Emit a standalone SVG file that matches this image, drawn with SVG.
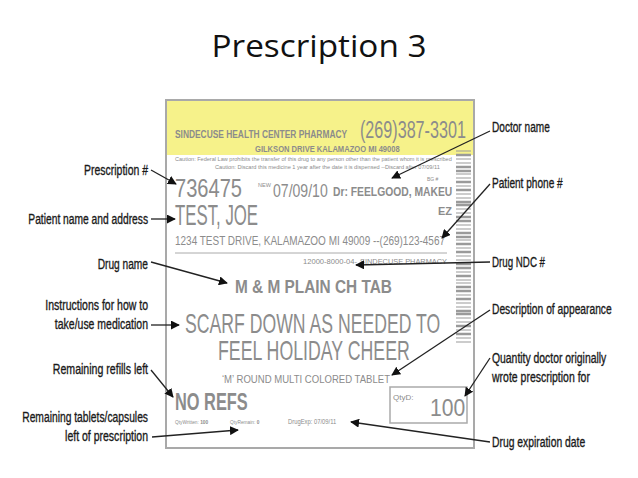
<svg xmlns="http://www.w3.org/2000/svg" width="638" height="478" viewBox="0 0 638 478">
<style>
.ann{font-family:"Liberation Sans",Arial,sans-serif;font-size:15px;fill:#1a1a1a;stroke:#1a1a1a;stroke-width:0.35;}
.lb{font-family:"Liberation Sans",Arial,sans-serif;fill:#8c8c8c;}
.b{font-weight:bold;}
.conn path{fill:none;stroke:#222;stroke-width:1.3;}
</style>
<defs>
<marker id="ah" viewBox="0 0 10 10" refX="9" refY="5" markerWidth="9" markerHeight="9" markerUnits="userSpaceOnUse" orient="auto">
<path d="M0,0 L10,5 L0,10 z" fill="#111"/>
</marker>
</defs>
<rect width="638" height="478" fill="#fff"/>
<text x="319" y="57" text-anchor="middle" font-family="'Open Sans','Liberation Sans',sans-serif" font-size="31" fill="#111" textLength="215" lengthAdjust="spacingAndGlyphs">Prescription 3</text>

<g id="label">
<rect x="166" y="100" width="308" height="348" fill="#fff" stroke="#a9a9a9" stroke-width="2"/>
<rect x="167" y="101" width="306" height="54" fill="#f6f28a"/>
<text class="lb b" transform="translate(175,138) scale(0.72,1)" font-size="11" textLength="239" lengthAdjust="spacingAndGlyphs">SINDECUSE HEALTH CENTER PHARMACY</text>
<text class="lb" transform="translate(360,138) scale(0.67,1)" font-size="24" fill="#8e8d7a" textLength="158" lengthAdjust="spacingAndGlyphs">(269)387-3301</text>
<text class="lb b" transform="translate(255,152) scale(0.72,1)" font-size="9" textLength="201" lengthAdjust="spacingAndGlyphs">GILKSON DRIVE KALAMAZOO MI 49008</text>
<text class="lb" transform="translate(175,161) scale(0.8,1)" font-size="5.5" fill="#a0a0b0" textLength="346" lengthAdjust="spacingAndGlyphs">Caution: Federal Law prohibits the transfer of this drug to any person other than the patient whom it is prescribed</text>
<text class="lb" transform="translate(215,169) scale(0.8,1)" font-size="5.5" fill="#a0a0b0" textLength="281" lengthAdjust="spacingAndGlyphs">Caution: Discard this medicine 1 year after the date it is dispensed --Discard after 07/09/11</text>
<text class="lb" x="427" y="181" font-size="5">BG #</text>
<text class="lb" transform="translate(175,197) scale(0.77,1)" font-size="26" textLength="87" lengthAdjust="spacingAndGlyphs">736475</text>
<text class="lb" x="258" y="187" font-size="5.5">NEW</text>
<text class="lb" transform="translate(273,197) scale(0.74,1)" font-size="19" textLength="74" lengthAdjust="spacingAndGlyphs">07/09/10</text>
<text class="lb b" transform="translate(333,196) scale(0.76,1)" font-size="13" textLength="157" lengthAdjust="spacingAndGlyphs">Dr: FEELGOOD, MAKEU</text>
<text class="lb b" x="438" y="215" font-size="11" textLength="14" lengthAdjust="spacingAndGlyphs">EZ</text>
<text class="lb" transform="translate(175,225) scale(0.62,1)" font-size="30" textLength="134" lengthAdjust="spacingAndGlyphs">TEST, JOE</text>
<text class="lb" transform="translate(175,245) scale(0.72,1)" font-size="12" textLength="375" lengthAdjust="spacingAndGlyphs">1234 TEST DRIVE, KALAMAZOO MI 49009 --(269)123-4567</text>
<line x1="175" y1="253" x2="447" y2="253" stroke="#aaa" stroke-width="1"/>
<text class="lb" transform="translate(303,264) scale(0.75,1)" font-size="7" textLength="72" lengthAdjust="spacingAndGlyphs">12000-8000-04-</text>
<text class="lb" transform="translate(360,264) scale(0.75,1)" font-size="7" textLength="116" lengthAdjust="spacingAndGlyphs">SINDECUSE PHARMACY</text>
<text class="lb b" transform="translate(235,293) scale(0.74,1)" font-size="18" textLength="212" lengthAdjust="spacingAndGlyphs">M &amp; M PLAIN CH TAB</text>
<text class="lb" transform="translate(185,333) scale(0.69,1)" font-size="27" fill="#999" textLength="370" lengthAdjust="spacingAndGlyphs">SCARF DOWN AS NEEDED TO</text>
<text class="lb" transform="translate(218,360) scale(0.7,1)" font-size="27" fill="#999" textLength="274" lengthAdjust="spacingAndGlyphs">FEEL HOLIDAY CHEER</text>
<text class="lb" transform="translate(222,383) scale(0.75,1)" font-size="10" textLength="224" lengthAdjust="spacingAndGlyphs">‘M’ ROUND MULTI COLORED TABLET</text>
<text class="lb b" transform="translate(175,410) scale(0.72,1)" font-size="24" textLength="101" lengthAdjust="spacingAndGlyphs">NO REFS</text>
<text class="lb" transform="translate(175,424) scale(0.8,1)" font-size="6" fill="#a0a0b0">QtyWritten: <tspan class="b" fill="#8c8c8c">100</tspan></text>
<text class="lb" transform="translate(230,424) scale(0.8,1)" font-size="6" fill="#a0a0b0">QtyRemain: <tspan class="b" fill="#8c8c8c">0</tspan></text>
<text class="lb" transform="translate(288,424) scale(0.9,1)" font-size="6.5" fill="#a0a0a0">DrugExp: 07/09/11</text>
<rect x="390" y="387" width="77" height="36" fill="none" stroke="#aaa" stroke-width="1.5"/>
<text class="lb" x="393" y="400" font-size="8">QtyD:</text>
<text class="lb" transform="translate(430,416) scale(0.75,1)" font-size="24" textLength="47" lengthAdjust="spacingAndGlyphs">100</text>
<g stroke="#9a9a9a">
<path stroke-width="1.2" d="M456 151h15M456 159h15M456 163h15M456 174h15M456 178h15M456 186h15M456 194h15M456 198h15M456 209h15M456 213h15M456 225h15M456 229h15M456 240h15M456 248h15M456 256h15M456 260h15M456 272h15M456 280h15M456 283h15M456 295h15M456 303h15M456 307h15M456 318h15M456 322h15M456 330h15M456 338h15M456 342h15"/>
<path stroke-width="2.6" d="M456 155h15M456 167h15M456 171h15M456 182h15M456 190h15M456 202h15M456 205h15M456 217h15M456 221h15M456 233h15M456 237h15M456 244h15M456 252h15M456 264h15M456 268h15M456 276h15M456 287h15M456 291h15M456 299h15M456 311h15M456 314h15M456 326h15M456 334h15"/>
</g>
</g>

<g id="ann-left">
<text class="ann" transform="translate(148,175) scale(0.68,1)" text-anchor="end" textLength="94" lengthAdjust="spacingAndGlyphs">Prescription #</text>
<text class="ann" transform="translate(148,224) scale(0.68,1)" text-anchor="end" textLength="176" lengthAdjust="spacingAndGlyphs">Patient name and address</text>
<text class="ann" transform="translate(148,269) scale(0.68,1)" text-anchor="end" textLength="74" lengthAdjust="spacingAndGlyphs">Drug name</text>
<text class="ann" transform="translate(148,310) scale(0.68,1)" text-anchor="end" textLength="151" lengthAdjust="spacingAndGlyphs">Instructions for how to</text>
<text class="ann" transform="translate(148,329) scale(0.68,1)" text-anchor="end" textLength="137" lengthAdjust="spacingAndGlyphs">take/use medication</text>
<text class="ann" transform="translate(148,374) scale(0.68,1)" text-anchor="end" textLength="140" lengthAdjust="spacingAndGlyphs">Remaining refills left</text>
<text class="ann" transform="translate(148,422) scale(0.68,1)" text-anchor="end" textLength="185" lengthAdjust="spacingAndGlyphs">Remaining tablets/capsules</text>
<text class="ann" transform="translate(148,441) scale(0.68,1)" text-anchor="end" textLength="122" lengthAdjust="spacingAndGlyphs">left of prescription</text>
</g>

<g id="ann-right">
<text class="ann" transform="translate(492,132) scale(0.68,1)" textLength="85" lengthAdjust="spacingAndGlyphs">Doctor name</text>
<text class="ann" transform="translate(492,188) scale(0.68,1)" textLength="104" lengthAdjust="spacingAndGlyphs">Patient phone #</text>
<text class="ann" transform="translate(492,267) scale(0.68,1)" textLength="78" lengthAdjust="spacingAndGlyphs">Drug NDC #</text>
<text class="ann" transform="translate(492,314) scale(0.68,1)" textLength="176" lengthAdjust="spacingAndGlyphs">Description of appearance</text>
<text class="ann" transform="translate(492,363) scale(0.68,1)" textLength="168" lengthAdjust="spacingAndGlyphs">Quantity doctor originally</text>
<text class="ann" transform="translate(492,382) scale(0.68,1)" textLength="144" lengthAdjust="spacingAndGlyphs">wrote prescription for</text>
<text class="ann" transform="translate(492,447) scale(0.68,1)" textLength="137" lengthAdjust="spacingAndGlyphs">Drug expiration date</text>
</g>

<g id="connectors" class="conn">
<path d="M151 170 L176 184" marker-end="url(#ah)"/>
<path d="M151 219 L175 219" marker-end="url(#ah)"/>
<path d="M151 262 L227 283" marker-end="url(#ah)"/>
<path d="M151 325 L179 325" marker-end="url(#ah)"/>
<path d="M151 370 L173 397" marker-end="url(#ah)"/>
<path d="M152 437 L238 430" marker-end="url(#ah)"/>
<path d="M490 131 L392 178" marker-end="url(#ah)"/>
<path d="M490 184 L442 238" marker-end="url(#ah)"/>
<path d="M490 262 L356 265" marker-end="url(#ah)"/>
<path d="M490 310 L392 375" marker-end="url(#ah)"/>
<path d="M490 358 L465 396" marker-end="url(#ah)"/>
<path d="M490 442 L351 422" marker-end="url(#ah)"/>
</g>
</svg>
